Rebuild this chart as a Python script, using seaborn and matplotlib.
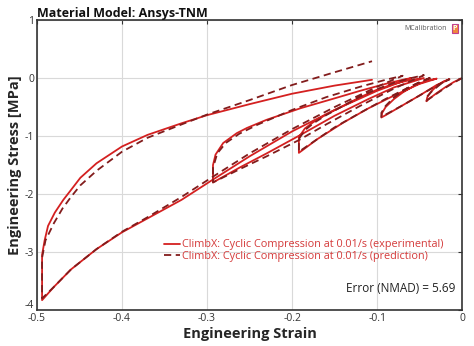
import matplotlib
matplotlib.use("Agg")
import matplotlib.pyplot as plt
from matplotlib.transforms import ScaledTranslation
import seaborn as sns
import pandas as pd

# Experimental path (strain, stress) - cyclic compression
exp_strain = [0, -0.01, -0.02, -0.03, -0.04, -0.042,
              -0.041, -0.037, -0.03, -0.022, -0.015,
              -0.03, -0.05, -0.07, -0.09, -0.095,
              -0.094, -0.09, -0.08, -0.07, -0.055, -0.04, -0.03,
              -0.05, -0.08, -0.11, -0.14, -0.17, -0.192,
              -0.192, -0.185, -0.175, -0.16, -0.14, -0.12, -0.10, -0.08, -0.06, -0.045,
              -0.08, -0.11, -0.15, -0.19, -0.23, -0.26, -0.293,
              -0.293, -0.29, -0.281, -0.265, -0.253, -0.23, -0.19, -0.15, -0.12, -0.09, -0.07, -0.06,
              -0.10, -0.15, -0.20, -0.25, -0.293, -0.33, -0.37, -0.40, -0.43, -0.46, -0.48, -0.494,
              -0.494, -0.494, -0.491, -0.487, -0.479, -0.469, -0.46, -0.449, -0.43, -0.40, -0.37,
              -0.33, -0.30, -0.25, -0.20, -0.15, -0.106]
exp_stress = [0, -0.07, -0.16, -0.26, -0.37, -0.40,
              -0.33, -0.24, -0.14, -0.06, -0.02,
              -0.12, -0.30, -0.47, -0.64, -0.68,
              -0.60, -0.50, -0.36, -0.25, -0.12, -0.04, -0.01,
              -0.10, -0.30, -0.52, -0.77, -1.05, -1.29,
              -1.02, -0.87, -0.76, -0.63, -0.48, -0.33, -0.20, -0.10, -0.03, 0.0,
              -0.16, -0.36, -0.65, -0.98, -1.30, -1.53, -1.80,
              -1.50, -1.32, -1.12, -0.95, -0.86, -0.72, -0.52, -0.35, -0.22, -0.10, -0.03, 0.0,
              -0.22, -0.55, -0.92, -1.35, -1.75, -2.10, -2.42, -2.66, -2.95, -3.30, -3.60, -3.83,
              -3.60, -3.05, -2.80, -2.55, -2.32, -2.10, -1.93, -1.72, -1.47, -1.18, -0.98,
              -0.78, -0.64, -0.45, -0.27, -0.13, -0.03]

# Prediction path
pred_strain = [0, -0.01, -0.02, -0.03, -0.042,
               -0.042, -0.035, -0.025, -0.015,
               -0.03, -0.05, -0.07, -0.095,
               -0.095, -0.09, -0.08, -0.065, -0.05, -0.035,
               -0.06, -0.09, -0.12, -0.15, -0.192,
               -0.192, -0.185, -0.175, -0.16, -0.14, -0.12, -0.10, -0.08, -0.06, -0.045,
               -0.08, -0.12, -0.16, -0.192, -0.23, -0.26, -0.293,
               -0.293, -0.288, -0.278, -0.262, -0.24, -0.20, -0.16, -0.12, -0.09, -0.07,
               -0.10, -0.15, -0.20, -0.25, -0.293, -0.33, -0.37, -0.40, -0.43, -0.46, -0.48, -0.494,
               -0.494, -0.49, -0.48, -0.47, -0.46, -0.449, -0.43, -0.40, -0.37,
               -0.33, -0.30, -0.25, -0.20, -0.15, -0.106]
pred_stress = [0, -0.08, -0.17, -0.27, -0.39,
               -0.33, -0.22, -0.10, -0.02,
               -0.13, -0.30, -0.47, -0.67,
               -0.60, -0.48, -0.33, -0.18, -0.07, 0.02,
               -0.14, -0.36, -0.60, -0.85, -1.27,
               -1.05, -0.90, -0.78, -0.64, -0.48, -0.32, -0.19, -0.08, 0.0, 0.05,
               -0.18, -0.48, -0.80, -1.07, -1.35, -1.56, -1.80,
               -1.55, -1.30, -1.12, -0.96, -0.80, -0.55, -0.33, -0.15, -0.03, 0.04,
               -0.15, -0.50, -0.88, -1.30, -1.70, -2.05, -2.40, -2.65, -2.95, -3.30, -3.60, -3.80,
               -3.10, -2.80, -2.50, -2.25, -2.05, -1.85, -1.60, -1.27, -1.03,
               -0.80, -0.63, -0.38, -0.12, 0.10, 0.29]

label_exp = "ClimbX: Cyclic Compression at 0.01/s (experimental)"
label_pred = "ClimbX: Cyclic Compression at 0.01/s (prediction)"

x_ticks = [-0.5, -0.4, -0.3, -0.2, -0.1, 0]
x_tick_labels = ["-0.5", "-0.4", "-0.3", "-0.2", "-0.1", "0"]
y_ticks = [-4, -3, -2, -1, 0, 1]
y_tick_labels = ["-4", "-3", "-2", "-1", "0", "1"]

sns.set_style("white")
plt.rcParams['font.family'] = ['Open Sans', 'DejaVu Sans']

df_exp = pd.DataFrame({"strain": exp_strain, "stress": exp_stress})
df_pred = pd.DataFrame({"strain": pred_strain, "stress": pred_stress})

fig = plt.figure(figsize=(4.74, 3.46), dpi=100)
ax = fig.add_axes([0.078, 0.104, 0.897, 0.838])

sns.lineplot(data=df_exp, x="strain", y="stress", sort=False, estimator=None,
             color="#d42020", lw=1.3, ax=ax, label=label_exp)
sns.lineplot(data=df_pred, x="strain", y="stress", sort=False, estimator=None,
             color="#821c1c", lw=1.3, ax=ax, label=label_pred, linestyle=(0, (4, 2.5)))

ax.set_xlim(-0.5, 0)
ax.set_ylim(-4, 1)
ax.set_xticks(x_ticks)
ax.set_xticklabels(x_tick_labels)
ax.set_yticks(y_ticks)
ax.set_yticklabels(y_tick_labels)
ax.grid(True, color="#d9d9d9", lw=0.8)
ax.tick_params(direction="in", length=3, labelsize=7.5, colors="#333333",
               top=True, right=True, pad=2)
for s in ax.spines.values():
    s.set_color("#333333")
    s.set_linewidth(1.2)

# nudge the bottom y label up slightly so it does not collide with the x label
ylab0 = ax.get_yticklabels()[0]
ylab0.set_transform(ylab0.get_transform() + ScaledTranslation(0, 4 / 72, fig.dpi_scale_trans))

ax.set_xlabel("Engineering Strain", fontsize=10.5, fontweight="bold", labelpad=2)
ax.set_ylabel("Engineering Stress [MPa]", fontsize=10.5, fontweight="bold", labelpad=2)

fig.text(0.078, 0.962, "Material Model: Ansys-TNM", fontsize=9, fontweight="bold",
         ha="left", va="center", color="#111111")

ax.text(0.965, 0.972, "MCalibration", transform=ax.transAxes, fontsize=5, color="#555555",
        ha="right", va="center")
ax.text(0.983, 0.972, "P", transform=ax.transAxes, fontsize=5, color="white", fontweight="bold",
        ha="center", va="center",
        bbox=dict(boxstyle="square,pad=0.15", fc="#f0883c", ec="#c04090", lw=0.8))

leg = ax.legend(loc="lower left", bbox_to_anchor=(0.28, 0.14), frameon=False,
                fontsize=7.8, handlelength=1.5, handletextpad=0.2, labelspacing=0.05,
                borderpad=0.2)
for t in leg.get_texts():
    t.set_color("#d43a3a")

ax.text(0.985, 0.075, "Error (NMAD) = 5.69", transform=ax.transAxes, fontsize=8.5,
        ha="right", va="center", color="#222222")

fig.savefig("out.png", dpi=100)
